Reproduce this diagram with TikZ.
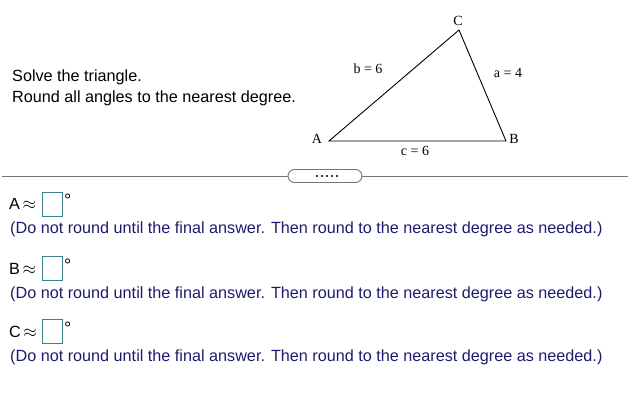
\documentclass[tikz,border=0pt]{standalone}
\usepackage{fontspec}
\setmainfont{Liberation Sans}
\newfontfamily\serifface{Liberation Serif}
\definecolor{navytext}{RGB}{28,28,110}
\definecolor{boxedge}{RGB}{60,130,140}
\definecolor{rulegrey}{RGB}{110,120,125}
\newcommand{\apx}{{\fontsize{16}{18}\selectfont$\approx$}}
\begin{document}
\begin{tikzpicture}[x=1pt,y=-1pt,
  sans/.style={inner sep=0pt,anchor=base west,font=\fontsize{16.2}{18}\selectfont},
  hint/.style={inner sep=0pt,anchor=base west,text=navytext,font=\fontsize{16.2}{18}\selectfont},
  lbl/.style={inner sep=0pt,anchor=base,font=\serifface\fontsize{14}{16}\selectfont},
  deg/.style={inner sep=0pt,anchor=base west,font=\fontsize{18}{20}\selectfont},
  ansbox/.style={draw=boxedge,line width=0.8pt,minimum width=20pt,minimum height=24pt,inner sep=0pt,anchor=north west}]
\useasboundingbox (0,0) rectangle (628,414);
% problem text
\node[sans] (t1) at (12,82) {Solve the triangle.};
\node[sans] (t2) at (12,103) {Round all angles to the nearest degree.};
% triangle
\coordinate (A) at (329,141);
\coordinate (B) at (506,141);
\coordinate (C) at (459,30);
\draw[line width=0.9pt,line join=miter] (A) -- (B) -- (C) -- cycle;
\node[lbl] (lC) at (458,26) {C};
\node[lbl] (lA) at (317,144) {A};
\node[lbl] (lB) at (514,144) {B};
\node[lbl] (lb) at (368,74) {b = 6};
\node[lbl] (la) at (508,78) {a = 4};
\node[lbl] (lc) at (415,155) {c = 6};
% divider
\draw[rulegrey,line width=1pt] (2,176) -- (628,176);
\node[draw=rulegrey,fill=white,rounded corners=6.5pt,line width=0.9pt,minimum width=74pt,minimum height=13pt,inner sep=0pt] (btn) at (325,176) {};
\foreach \i in {0,...,4}{\fill[black!75] (316+\i*5,175.2) rectangle ++(2,1.8);}
% answers
\node[sans] (qa) at (9,209) {A\hspace{2.5pt}\apx};
\node[ansbox] (ba) at (42,192) {};
\node[deg] (da) at (64,206) {°};
\node[hint] (ha) at (10,233) {(Do not round until the final answer. Then round to the nearest degree as needed.)};
\node[sans] (qb) at (9,274) {B\hspace{2.5pt}\apx};
\node[ansbox] (bb) at (42,256) {};
\node[deg] (db) at (64,271) {°};
\node[hint] (hb) at (10,298) {(Do not round until the final answer. Then round to the nearest degree as needed.)};
\node[sans] (qc) at (9,337) {C\hspace{2.5pt}\apx};
\node[ansbox] (bc) at (42,319) {};
\node[deg] (dc) at (64,334) {°};
\node[hint] (hc) at (10,361) {(Do not round until the final answer. Then round to the nearest degree as needed.)};
\end{tikzpicture}
\end{document}
